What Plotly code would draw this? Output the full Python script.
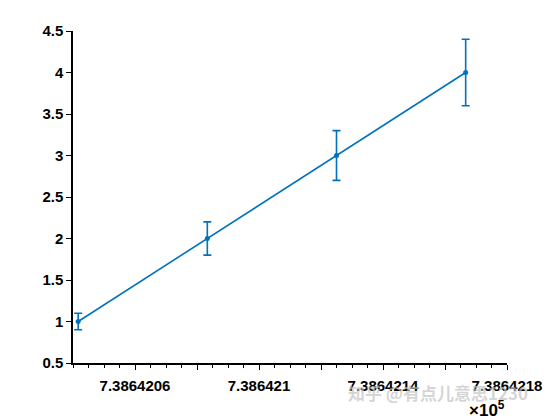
import plotly.graph_objects as go

# datenum-style x values (one point per hour) with mean and error
x_vals = [738642 + 1 / 24, 738642 + 2 / 24, 738642 + 3 / 24, 738642 + 4 / 24]
y_vals = [1, 2, 3, 4]
y_err = [0.1, 0.2, 0.3, 0.4]

x_tickvals = [738642.06, 738642.08, 738642.10, 738642.12, 738642.14, 738642.16, 738642.18]
x_ticktext = ['7.3864206', '', '7.386421', '', '7.3864214', '', '7.3864218']
y_tickvals = [0.5, 1, 1.5, 2, 2.5, 3, 3.5, 4, 4.5]
y_ticktext = ['0.5', '1', '1.5', '2', '2.5', '3', '3.5', '4', '4.5']

azul = '#0072BD'
fuente = dict(family='Liberation Sans, Arial, sans-serif', size=15, color='black', weight='bold')

fig = go.Figure()
fig.add_trace(go.Scatter(
    x=x_vals, y=y_vals, mode='lines+markers',
    line=dict(color=azul, width=1.6),
    marker=dict(color=azul, size=5),
    error_y=dict(type='data', array=y_err, visible=True, color=azul, thickness=1.6, width=4),
    showlegend=False,
))

# la página deja ~8px de margen, por eso la figura es 552x412
fig.update_layout(
    width=552, height=412,
    margin=dict(l=65, r=53, t=23, b=57, autoexpand=False),
    plot_bgcolor='white', paper_bgcolor='white',
    font=fuente,
)
fig.update_xaxes(
    range=[738642.04, 738642.18], showgrid=False, zeroline=False,
    showline=True, linecolor='black', linewidth=1.5,
    ticks='outside', ticklen=5, tickwidth=1.3, tickcolor='black',
    tickvals=x_tickvals, ticktext=['<b>' + t + '</b>' if t else '' for t in x_ticktext],
    tickfont=fuente, ticklabelstandoff=3,
    minor=dict(ticks='outside', ticklen=3, tickwidth=1.2, tickcolor='black', dtick=0.005, tick0=738642.04),
)
fig.update_yaxes(
    range=[0.5, 4.5], showgrid=False, zeroline=False,
    showline=True, linecolor='black', linewidth=1.5,
    ticks='outside', ticklen=5, tickwidth=1.3, tickcolor='black',
    tickvals=y_tickvals, ticktext=['<b>' + t + '</b>' for t in y_ticktext],
    tickfont=fuente,
)

# watermark
fig.add_annotation(
    x=1.053, y=-0.09, xref='paper', yref='paper', xanchor='right', yanchor='middle',
    showarrow=False, text='知乎 @有点儿意思1230',
    font=dict(family='Noto Sans CJK SC', size=17, color='rgba(195,195,195,0.7)'),
)
# exponent label under the right end of the x axis
fig.add_annotation(
    x=0.954, y=-0.14, xref='paper', yref='paper', xanchor='center', yanchor='middle',
    showarrow=False, text='<b>×10<sup>5</sup></b>',
    font=dict(family='Liberation Sans, Arial, sans-serif', size=17, color='black'),
)

fig.write_html('out.html')
